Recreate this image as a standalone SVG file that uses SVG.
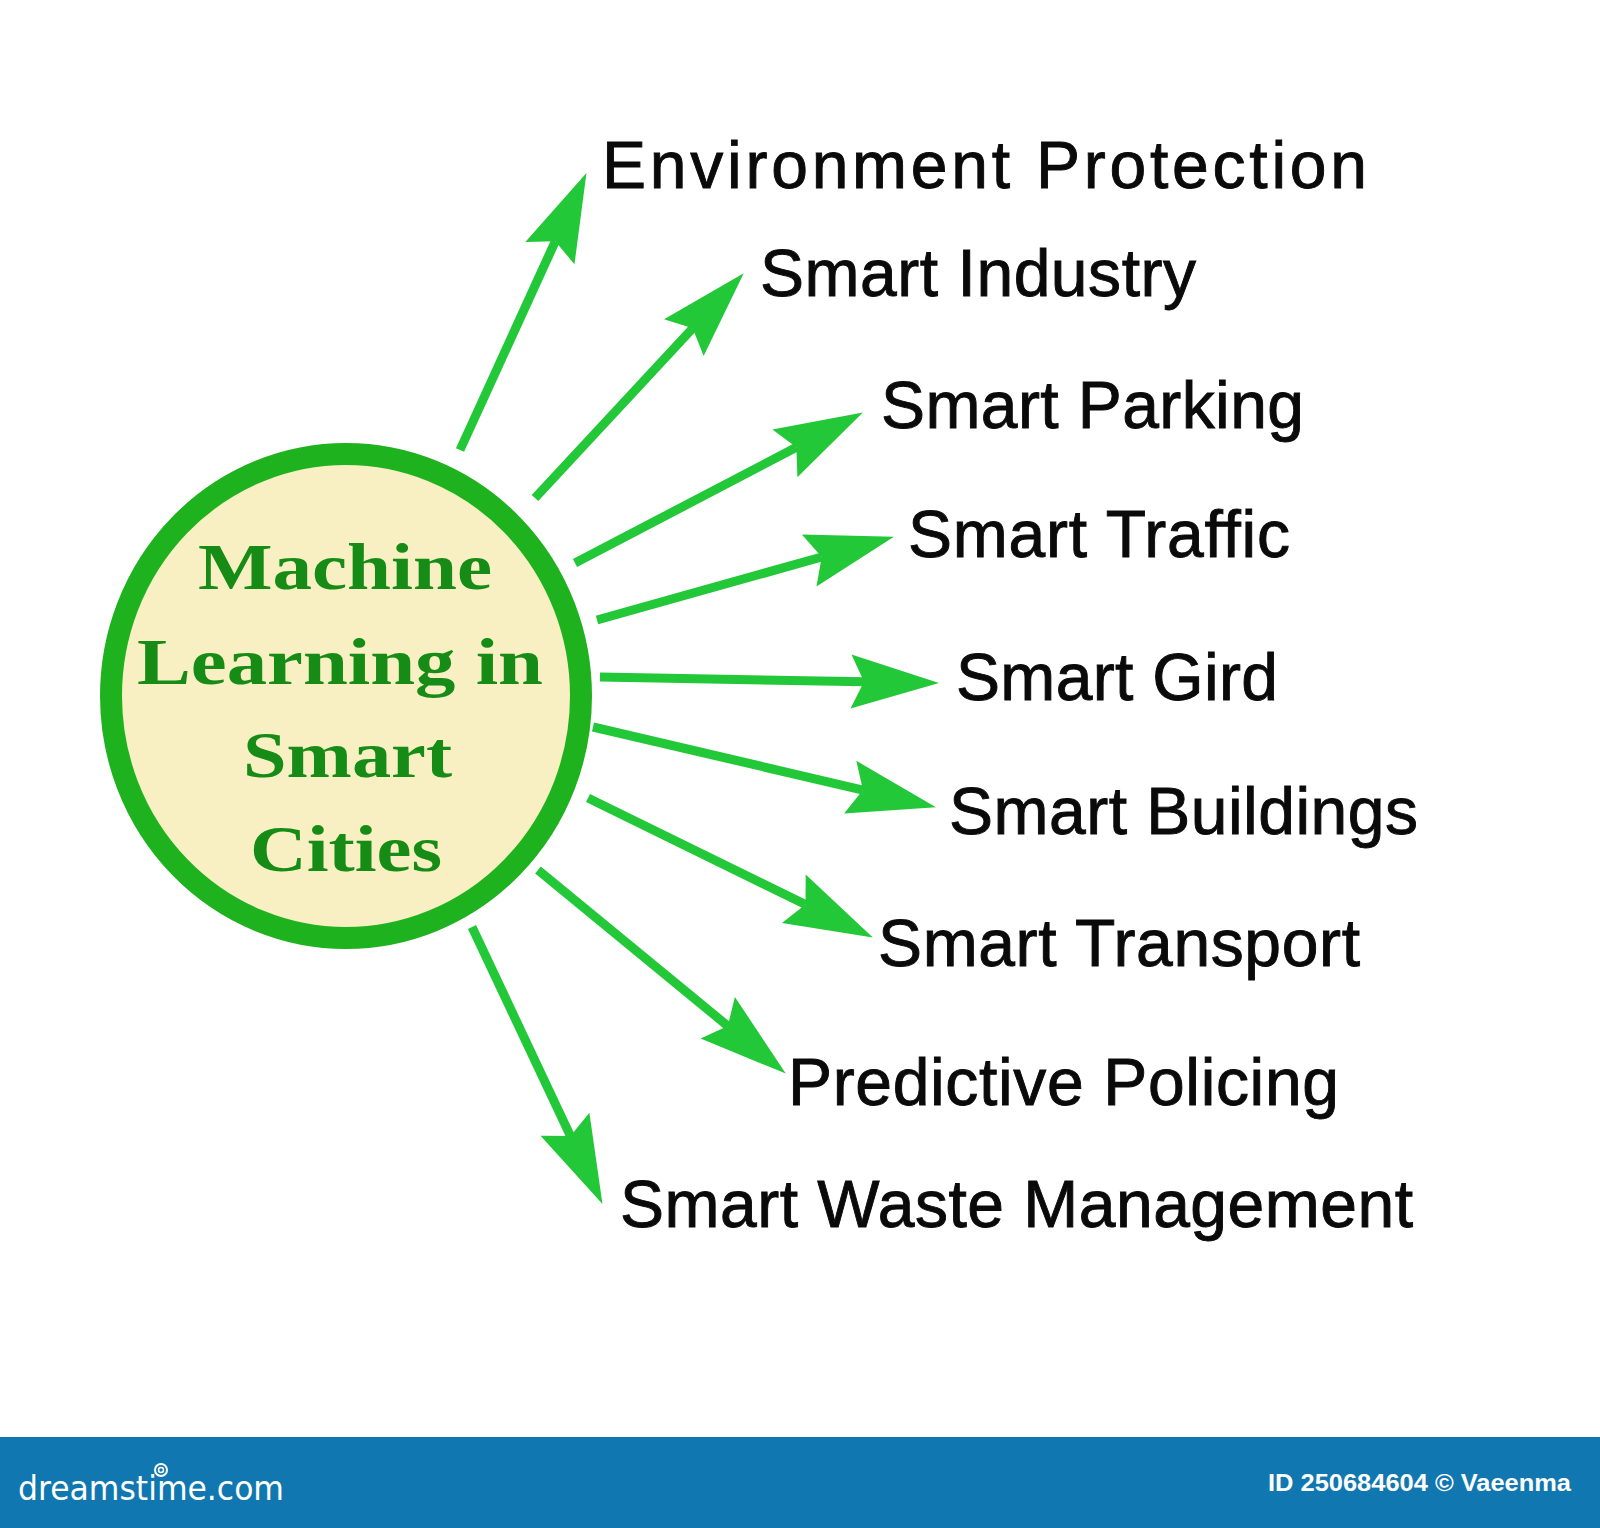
<svg xmlns="http://www.w3.org/2000/svg" width="1600" height="1528" viewBox="0 0 1600 1528">
  <style>
    .conn { stroke: #22C837; stroke-width: 9; fill: none; stroke-linecap: butt; }
    .label { font-family: "Liberation Sans", Arial, sans-serif; font-size: 66px; fill: #0A0A0A; stroke: #0A0A0A; stroke-width: 0.9px; }
    .hub { font-family: "Liberation Serif", "Times New Roman", serif; font-size: 66px; font-weight: bold; fill: #168C16; }
    .brand { font-family: "DejaVu Sans", "Liberation Sans", sans-serif; font-size: 33px; fill: #FFFFFF; }
    .credit { font-family: "Liberation Sans", Arial, sans-serif; font-size: 24px; font-weight: bold; fill: #FFFFFF; }
  </style>
  <defs>
    <marker id="head" markerUnits="userSpaceOnUse" markerWidth="100" markerHeight="60" refX="13" refY="30" orient="auto" overflow="visible">
      <path d="M0,3 L88,30 L0,57 L13,30 Z" fill="#22C837"/>
    </marker>
  </defs>
  <rect x="0" y="0" width="1600" height="1528" fill="#FFFFFF"/>

  <g id="connectors">
    <line class="conn" x1="460" y1="450" x2="555.3" y2="241.3" marker-end="url(#head)"/>
    <line class="conn" x1="535" y1="498" x2="692.7" y2="328.2" marker-end="url(#head)"/>
    <line class="conn" x1="575" y1="563" x2="796.4" y2="447.3" marker-end="url(#head)"/>
    <line class="conn" x1="597" y1="620" x2="821.7" y2="557" marker-end="url(#head)"/>
    <line class="conn" x1="600" y1="677" x2="864" y2="681.7" marker-end="url(#head)"/>
    <line class="conn" x1="593" y1="727" x2="862.9" y2="790.1" marker-end="url(#head)"/>
    <line class="conn" x1="588" y1="798" x2="805.5" y2="904.5" marker-end="url(#head)"/>
    <line class="conn" x1="538" y1="870" x2="727.8" y2="1026" marker-end="url(#head)"/>
    <line class="conn" x1="472" y1="927" x2="570.5" y2="1136.1" marker-end="url(#head)"/>
  </g>

  <g id="hub">
    <ellipse cx="346" cy="696" rx="235" ry="242" fill="#F8F0C2" stroke="#1FB21F" stroke-width="22"/>
    <text class="hub" x="198" y="589" textLength="294" lengthAdjust="spacingAndGlyphs">Machine</text>
    <text class="hub" x="137" y="684" textLength="406" lengthAdjust="spacingAndGlyphs">Learning in</text>
    <text class="hub" x="243" y="777" textLength="209" lengthAdjust="spacingAndGlyphs">Smart</text>
    <text class="hub" x="250" y="871" textLength="192" lengthAdjust="spacingAndGlyphs">Cities</text>
  </g>

  <g id="node-environment"><text class="label" x="602" y="188" textLength="765">Environment Protection</text></g>
  <g id="node-industry"><text class="label" x="760" y="296" textLength="436">Smart Industry</text></g>
  <g id="node-parking"><text class="label" x="881" y="428" textLength="423">Smart Parking</text></g>
  <g id="node-traffic"><text class="label" x="908" y="557" textLength="382">Smart Traffic</text></g>
  <g id="node-grid"><text class="label" x="956" y="700" textLength="322">Smart Gird</text></g>
  <g id="node-buildings"><text class="label" x="949" y="834" textLength="469">Smart Buildings</text></g>
  <g id="node-transport"><text class="label" x="878" y="966" textLength="482">Smart Transport</text></g>
  <g id="node-policing"><text class="label" x="788" y="1105" textLength="551">Predictive Policing</text></g>
  <g id="node-waste"><text class="label" x="620" y="1227" textLength="793">Smart Waste Management</text></g>

  <g id="footer">
    <rect x="0" y="1437" width="1600" height="91" fill="#1177B0"/>
    <text class="brand" x="18" y="1500" textLength="266" lengthAdjust="spacingAndGlyphs">dreamstime.com</text>
    <circle cx="161" cy="1470" r="6" fill="none" stroke="#FFFFFF" stroke-width="2"/>
    <circle cx="161" cy="1470" r="2.5" fill="none" stroke="#FFFFFF" stroke-width="1.5"/>
    <text class="credit" x="1268" y="1491" textLength="303" lengthAdjust="spacingAndGlyphs">ID 250684604 © Vaeenma</text>
  </g>
</svg>
